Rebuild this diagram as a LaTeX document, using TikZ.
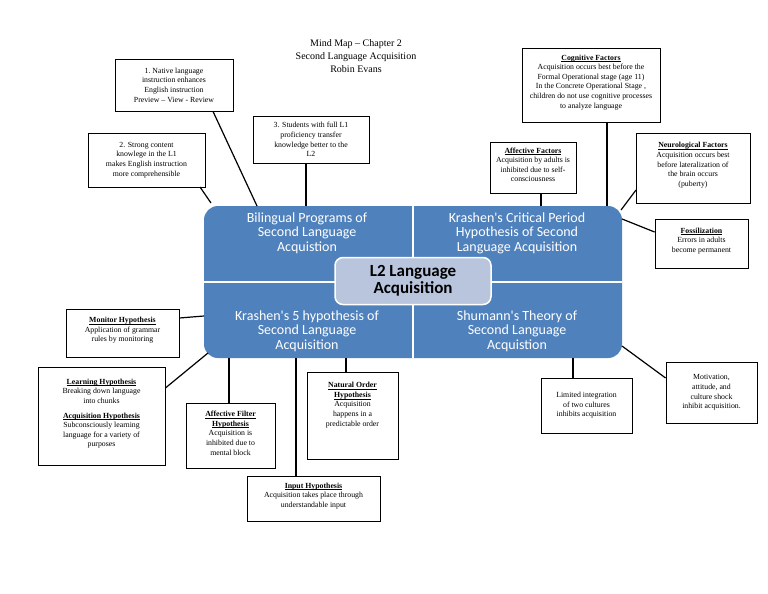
\documentclass[tikz,border=0pt]{standalone}
\usepackage{fontspec}
\setmainfont{Liberation Serif}
\newfontfamily\quadfont{Carlito}
\newcommand{\hd}[1]{\underline{\smash{\textbf{#1}}}}
\begin{document}
\begin{tikzpicture}[x=1pt,y=-1pt,
  box/.style={draw,thick,fill=white,align=center,font=\fontsize{7.8}{9.6}\selectfont,inner sep=2pt},
  quad/.style={text=white,align=center,font=\quadfont\fontsize{14}{14.5}\selectfont},
  con/.style={line width=1.2pt}]
\useasboundingbox[fill=white] (0,0) rectangle (768,594);
\node[align=center,font=\fontsize{10}{13}\selectfont] (title) at (356,56) {Mind Map -- Chapter 2\\Second Language Acquisition\\Robin Evans};
% central block
\fill[fill={rgb,255:red,79;green,129;blue,189}, rounded corners=14] (204,206) rectangle (622,358);
\node[minimum width=418,minimum height=152,inner sep=0] (block) at (413,282) {};
\draw[white,line width=2pt] (413,206) -- (413,358) (204,282) -- (622,282);
\node[quad] (q1) at (307,233) {Bilingual Programs of\\Second Language\\Acquistion};
\node[quad] (q2) at (517,233) {Krashen's Critical Period\\Hypothesis of Second\\Language Acquisition};
\node[quad] (q3) at (307,331) {Krashen's 5 hypothesis of\\Second Language\\Acquisition};
\node[quad] (q4) at (517,331) {Shumann's Theory of\\Second Language\\Acquistion};
\node[draw=white,line width=1.5pt,fill={rgb,255:red,184;green,197;blue,221},rounded corners=8,minimum width=156,minimum height=47,align=center,font=\quadfont\bfseries\fontsize{17}{17}\selectfont] (center) at (413,281) {L2 Language\\Acquisition};
% boxes
\node[box,minimum width=118,minimum height=52] (b1) at (174,85) {1.\ Native language\\instruction enhances\\English instruction\\Preview -- View - Review};
\node[box,minimum width=117,minimum height=54] (b2) at (146.5,160) {2. Strong content\\knowlege in the L1\\makes English instruction\\more comprehensible};
\node[box,minimum width=116,minimum height=47] (b3) at (311,139.5) {3. Students with full L1\\proficiency transfer\\knowledge better to the\\L2};
\node[box,minimum width=138,minimum height=74] (cog) at (591,85) {\hd{Cognitive Factors}\\Acquisition occurs best before the\\Formal Operational stage (age 11)\\In the Concrete Operational Stage ,\\children do not use cognitive processes\\to analyze language};
\node[box,minimum width=86,minimum height=51] (aff) at (533,167.5) {\hd{Affective Factors}\\Acquisition by adults is\\inhibited due to self-\\consciousness};
\node[box,minimum width=114,minimum height=70] (neu) at (693,168) {\hd{Neurological Factors}\\Acquisition occurs best\\before lateralization of\\the brain occurs\\(puberty)};
\node[box,minimum width=93,minimum height=49] (fos) at (701.5,243.5) {\hd{Fossilization}\\Errors in adults\\become permanent};
\node[box,minimum width=113,minimum height=48] (mon) at (122.5,333) {\hd{Monitor Hypothesis}\\Application of grammar\\rules by monitoring};
\node[box,minimum width=127,minimum height=98,anchor=north] (lea) at (101.5,367) {\hd{Learning Hypothesis}\\Breaking down language\\into chunks\\[5pt]\hd{Acquisition Hypothesis}\\Subconsciously learning\\language for a variety of\\purposes};
\node[box,minimum width=89,minimum height=65,anchor=north] (fil) at (230.5,403) {\hd{Affective Filter}\\\hd{Hypothesis}\\Acquisition is\\inhibited due to\\mental block};
\node[box,minimum width=91,minimum height=87,anchor=north,text depth=18pt] (nat) at (352.5,372) {\hd{Natural Order}\\\hd{Hypothesis}\\Acquisition\\happens in a\\predictable order};
\node[box,minimum width=133,minimum height=45] (inp) at (313.5,498.5) {\hd{Input Hypothesis}\\Acquisition takes place through\\understandable input};
\node[box,minimum width=91,minimum height=55] (lim) at (586.5,405.5) {Limited integration\\of two cultures\\inhibits acquisition};
\node[box,minimum width=91,minimum height=61] (mot) at (711.5,392.5) {Motivation,\\attitude, and\\culture shock\\inhibit acquisition.};
% connectors
\coordinate (e1) at (257,206); \coordinate (e2) at (211,203); \coordinate (e3) at (306,206);
\coordinate (ec) at (607,206); \coordinate (ea) at (541,206); \coordinate (en) at (621,210);
\coordinate (ef) at (622,219); \coordinate (em) at (204,316); \coordinate (el) at (208,353);
\coordinate (ei) at (229,358); \coordinate (eo) at (346,358); \coordinate (ep) at (296,358);
\coordinate (eL) at (573,358); \coordinate (eM) at (622,346);
\draw[con] (b1.south -| 213,0) -- (e1);
\draw[con] (200,187) -- (e2);
\draw[con] (b3.south -| 306,0) -- (e3);
\draw[con] (cog.south -| 607,0) -- (ec);
\draw[con] (aff.south -| 541,0) -- (ea);
\draw[con] (636,190) -- (en);
\draw[con] (fos.west |- 0,232) -- (ef);
\draw[con] (mon.east |- 0,318) -- (em);
\draw[con] (lea.east |- 0,388) -- (el);
\draw[con] (fil.north -| 229,0) -- (ei);
\draw[con] (nat.north -| 346,0) -- (eo);
\draw[con] (inp.north -| 296,0) -- (ep);
\draw[con] (lim.north -| 573,0) -- (eL);
\draw[con] (mot.west |- 0,378) -- (eM);
\end{tikzpicture}
\end{document}
